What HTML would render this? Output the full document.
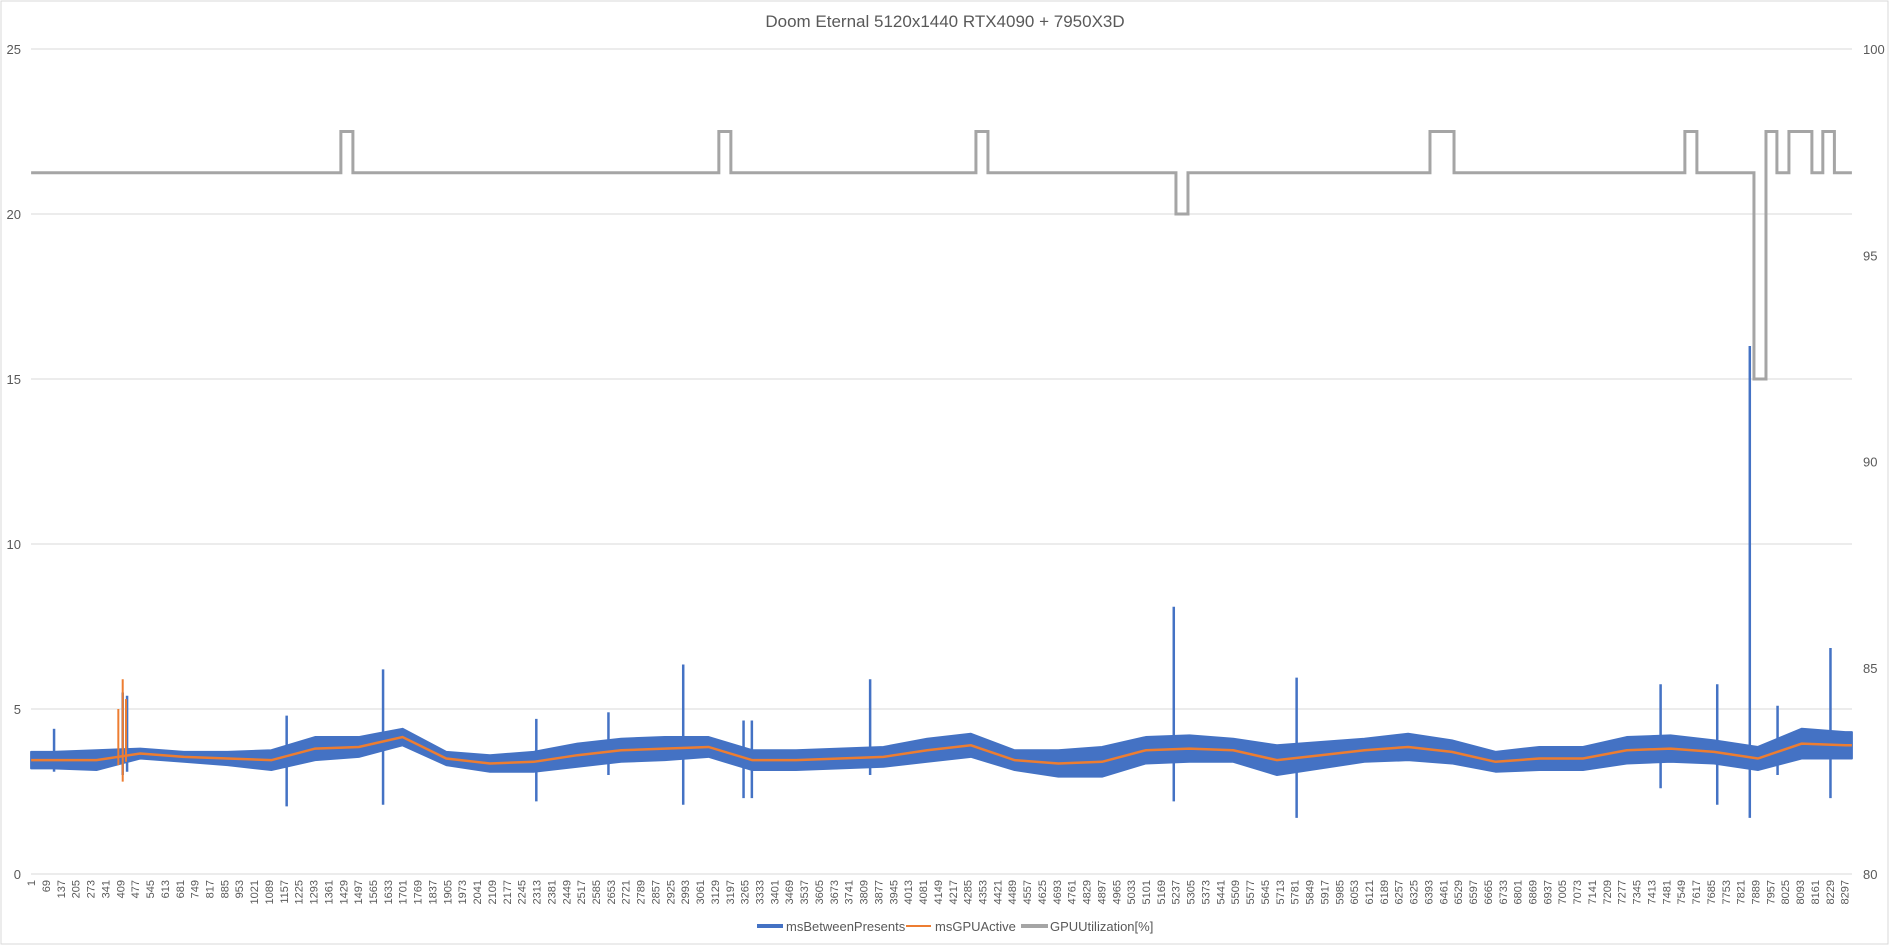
<!DOCTYPE html>
<html><head><meta charset="utf-8"><style>
html,body{margin:0;padding:0;background:#fff}
svg{display:block;font-family:"Liberation Sans",sans-serif}
</style></head><body>
<svg id="chart" width="1890" height="946">
<rect x="1" y="1" width="1887" height="943" fill="#fff" stroke="#d9d9d9"/>
<text x="945" y="27" text-anchor="middle" font-size="17" fill="#595959">Doom Eternal 5120x1440 RTX4090 + 7950X3D</text>
<g id="grid"></g><g id="series"></g><g id="axes"></g>
<g>
<line x1="757" y1="926" x2="783" y2="926" stroke="#4472c4" stroke-width="4"/>
<text x="786" y="931" font-size="13" fill="#595959">msBetweenPresents</text>
<line x1="906" y1="926" x2="931" y2="926" stroke="#ed7d31" stroke-width="2"/>
<text x="935" y="931" font-size="13" fill="#595959">msGPUActive</text>
<line x1="1021" y1="926" x2="1048" y2="926" stroke="#a5a5a5" stroke-width="4"/>
<text x="1050" y="931" font-size="13" fill="#595959">GPUUtilization[%]</text>
</g>
</svg>
<script>
const binCenters=[100,300,500,700,900,1100,1300,1500,1700,1900,2100,2300,2500,2700,2900,3100,3300,3500,3700,3900,4100,4300,4500,4700,4900,5100,5300,5500,5700,5900,6100,6300,6500,6700,6900,7100,7300,7500,7700,7900,8100,8300];
const gpuActiveMean=[3.45,3.45,3.65,3.55,3.5,3.45,3.8,3.85,4.15,3.5,3.35,3.4,3.6,3.75,3.8,3.85,3.45,3.45,3.5,3.55,3.75,3.9,3.45,3.35,3.4,3.75,3.8,3.75,3.45,3.6,3.75,3.85,3.7,3.4,3.5,3.5,3.75,3.8,3.7,3.5,3.95,3.9];
const betweenSpread=[0.25,0.3,0.15,0.15,0.2,0.3,0.35,0.3,0.25,0.2,0.25,0.3,0.35,0.35,0.35,0.3,0.3,0.3,0.3,0.3,0.35,0.35,0.3,0.4,0.45,0.4,0.4,0.35,0.45,0.4,0.35,0.4,0.35,0.3,0.35,0.35,0.4,0.4,0.35,0.35,0.45,0.4];
const spikeFrames=[106,420,440,1170,1611,2312,2642,2984,3260,3298,3839,5228,5790,7455,7714,7863,7990,8232];
const spikeHigh=[4.4,5.5,5.4,4.8,6.2,4.7,4.9,6.35,4.65,4.65,5.9,8.1,5.95,5.75,5.75,16.0,5.1,6.85];
const spikeLow=[3.1,3.0,3.1,2.05,2.1,2.2,3.0,2.1,2.3,2.3,3.0,2.2,1.7,2.6,2.1,1.7,3.0,2.3];
const gpuActiveSpikeFrames=[400,420,435];
const gpuActiveSpikeHigh=[5.0,5.9,5.3];
const gpuActiveSpikeLow=[3.3,2.8,3.4];
const utilStepStarts=[1,1418,1473,3147,3202,4323,4378,5238,5293,6400,6510,7566,7621,7882,7937,7987,8042,8147,8197,8250];
const utilStepValues=[97,98,97,98,97,98,97,96,97,98,97,98,97,92,98,97,98,97,98,97];
const leftTicks=[0,5,10,15,20,25];
const rightTicks=[80,85,90,95,100];
const N=8330;
const X=f=>31+(f-0.5)*1821/N;
const Y=v=>874-v*33;
const YR=v=>874-(v-80)*41.25;
const NS='http://www.w3.org/2000/svg';
function mk(t,a,p){const e=document.createElementNS(NS,t);for(const k in a)e.setAttribute(k,a[k]);p.appendChild(e);return e;}
const gridG=document.getElementById('grid'),ser=document.getElementById('series'),ax=document.getElementById('axes');
leftTicks.forEach(v=>{
 const l=mk('line',{x1:31,x2:1852,y1:Y(v),y2:Y(v),stroke:'#d9d9d9','stroke-width':1},gridG);
 
 
 const t=mk('text',{x:21,y:Y(v)+5,'text-anchor':'end','font-size':13,fill:'#595959'},ax);t.textContent=v;
 
 
});
rightTicks.forEach(v=>{
 const t=mk('text',{x:1863,y:YR(v)+5,'font-size':13,fill:'#595959'},ax);t.textContent=v;
 
 
});
for(let f=1;f<=8297;f+=68){
 const x=X(f)+4;
 const t=mk('text',{x:x,y:880,'text-anchor':'end','font-size':11,fill:'#595959',transform:`rotate(-90 ${x} 880)`},ax);t.textContent=f;
 
 
}
let bandTop=[],bandBot=[];
const xs=[1,...binCenters,N],ms=[gpuActiveMean[0],...gpuActiveMean,gpuActiveMean[gpuActiveMean.length-1]],ss=[betweenSpread[0],...betweenSpread,betweenSpread[betweenSpread.length-1]];
xs.forEach((f,i)=>{bandTop.push(X(f)+','+Y(ms[i]+ss[i]));bandBot.unshift(X(f)+','+Y(ms[i]-ss[i]));});
const band=mk('polygon',{points:bandTop.concat(bandBot).join(' '),fill:'#4472c4',stroke:'#4472c4','stroke-width':2,'stroke-linejoin':'round'},ser);


spikeFrames.forEach((f,i)=>{
 const l=mk('line',{x1:X(f),x2:X(f),y1:Y(spikeHigh[i]),y2:Y(spikeLow[i]),stroke:'#4472c4','stroke-width':2.5},ser);
 
 
});
const op=mk('polyline',{points:xs.map((f,i)=>X(f)+','+Y(ms[i])).join(' '),fill:'none',stroke:'#ed7d31','stroke-width':2.5},ser);


gpuActiveSpikeFrames.forEach((f,i)=>{
 const l=mk('line',{x1:X(f),x2:X(f),y1:Y(gpuActiveSpikeHigh[i]),y2:Y(gpuActiveSpikeLow[i]),stroke:'#ed7d31','stroke-width':2},ser);
 
 
});
let pts=[];
utilStepStarts.forEach((f,i)=>{
 const end=i+1<utilStepStarts.length?utilStepStarts[i+1]:N;
 pts.push(X(f)+','+YR(utilStepValues[i]));pts.push(X(end)+','+YR(utilStepValues[i]));
});
const gp=mk('polyline',{points:pts.join(' '),fill:'none',stroke:'#a5a5a5','stroke-width':3},ser);


</script>
</body></html>
